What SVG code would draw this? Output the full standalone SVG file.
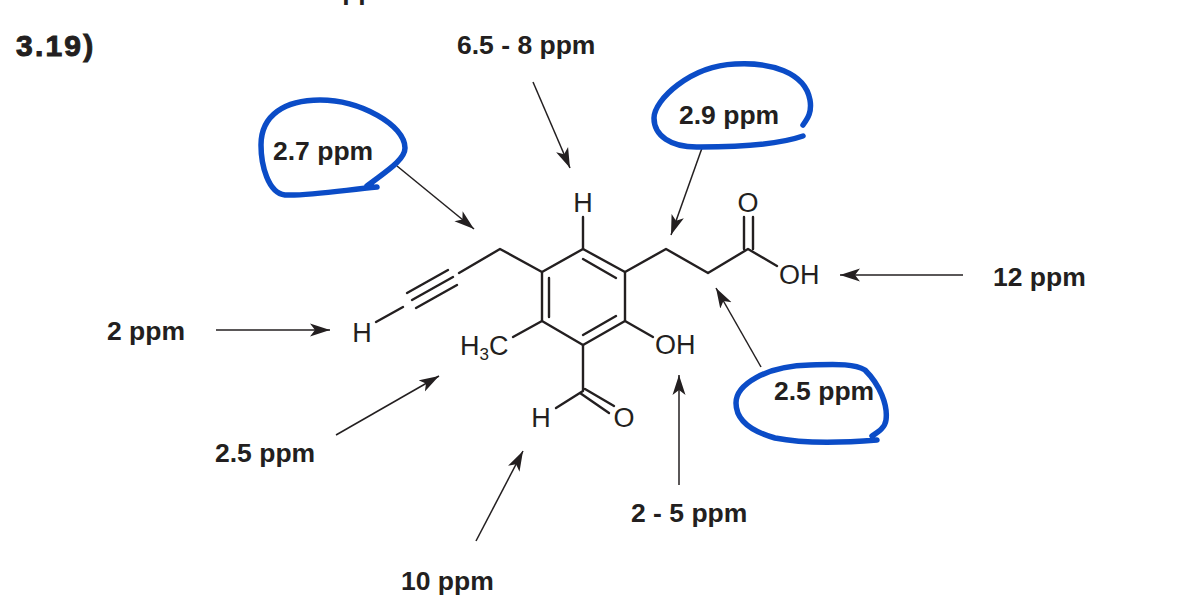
<svg xmlns="http://www.w3.org/2000/svg" width="1187" height="607" viewBox="0 0 1187 607">
<style>
text{font-family:"Liberation Sans",Arial,sans-serif;fill:#231f20}
.l{font-size:26.5px;font-weight:700}
.a{font-size:27px}
.s{font-size:17px}
.b{fill:none;stroke:#231f20;stroke-width:2.4;stroke-linecap:round;stroke-linejoin:round}
.c{fill:none;stroke:#231f20;stroke-width:1.5}
.h{fill:none;stroke:#0b4cc7;stroke-width:5.5;stroke-linecap:round;stroke-linejoin:round}
</style>
<defs>
<marker id="ah" markerUnits="userSpaceOnUse" markerWidth="22" markerHeight="14" refX="20" refY="6.5" orient="auto" viewBox="0 0 22 13">
<path d="M20 6.5L0 0L5 6.5L0 13Z" fill="#231f20"/>
</marker>
</defs>
<rect width="1187" height="607" fill="#fff"/>
<text class="l" y="-0.5" x="295">9<tspan dx="25"> </tspan>ppm</text>
<text id="title" x="16" y="56" style="font-size:30px;font-weight:700;letter-spacing:2.2px;stroke:#231f20;stroke-width:1">3.19)</text>
<g id="molecule">
<path class="b" d="M583 249L625 272V321L583 345L542 321V272Z"/>
<path class="b" d="M583 259L616 278M583 335L616 316M549 278V317"/>
<path class="b" d="M583 249V217"/>
<text class="a" x="583" y="212" text-anchor="middle">H</text>
<path class="b" d="M542 272L500 249L459 273"/>
<path class="b" d="M407 293L448 270M412 300L453 277M416 308L457 285M403 307L376 322"/>
<text class="a" x="362" y="342" text-anchor="middle">H</text>
<path class="b" d="M542 321L513 337"/>
<text x="460" y="355"><tspan class="a">H</tspan><tspan class="s" dy="5">3</tspan><tspan class="a" dy="-5">C</tspan></text>
<path class="b" d="M583 345V391L556 408M580 393L609 413M585 389L614 406"/>
<text class="a" x="541" y="427" text-anchor="middle">H</text>
<text class="a" x="624" y="427" text-anchor="middle">O</text>
<path class="b" d="M625 321L653 337"/>
<text class="a" x="655" y="354">OH</text>
<path class="b" d="M625 272L666 249L708 273L748 249L777 266M744 249V217M753 249V217"/>
<text class="a" x="748" y="212" text-anchor="middle">O</text>
<text class="a" x="779" y="284">OH</text>
</g>
<g id="connectors">
<line class="c" x1="533" y1="82" x2="570" y2="168" marker-end="url(#ah)"/>
<line class="c" x1="702" y1="148" x2="671" y2="235" marker-end="url(#ah)"/>
<line class="c" x1="397" y1="166" x2="474" y2="229" marker-end="url(#ah)"/>
<line class="c" x1="963" y1="275" x2="840" y2="275" marker-end="url(#ah)"/>
<line class="c" x1="761" y1="367" x2="716" y2="288" marker-end="url(#ah)"/>
<line class="c" x1="216" y1="330" x2="330" y2="330" marker-end="url(#ah)"/>
<line class="c" x1="336" y1="435" x2="439" y2="376" marker-end="url(#ah)"/>
<line class="c" x1="476" y1="541" x2="523" y2="451" marker-end="url(#ah)"/>
<line class="c" x1="679" y1="485" x2="679" y2="375" marker-end="url(#ah)"/>
</g>
<g id="label-6-5-8"><text class="l" x="457" y="54">6.5 - 8 ppm</text></g>
<g id="label-2-9">
<path class="h" d="M803 136C780 144 745 147 700 147C670 148 654 135 654 118C654 100 690 66 735 64C770 62 805 72 810 100C812 112 808 118 803 125"/>
<text class="l" x="679" y="124">2.9 ppm</text>
</g>
<g id="label-2-7">
<path class="h" d="M377 187C345 190 310 196 285 195C268 193 261 165 261 145C261 115 285 100 320 100C360 100 405 125 405 148C405 160 385 172 367 186"/>
<text class="l" x="273" y="160">2.7 ppm</text>
</g>
<g id="label-12"><text class="l" x="993" y="286">12 ppm</text></g>
<g id="label-2-5-right">
<path class="h" d="M877 440C840 443 800 443 775 438C750 431 736 420 736 403C736 385 765 366 810 365C840 364 855 364 865 370C880 385 888 405 886 420C885 428 878 432 872 436"/>
<text class="l" x="774" y="400">2.5 ppm</text>
</g>
<g id="label-2"><text class="l" x="107" y="340">2 ppm</text></g>
<g id="label-2-5-left"><text class="l" x="215" y="462">2.5 ppm</text></g>
<g id="label-10"><text class="l" x="401" y="590">10 ppm</text></g>
<g id="label-2-5"><text class="l" x="631" y="522">2 - 5 ppm</text></g>
</svg>
